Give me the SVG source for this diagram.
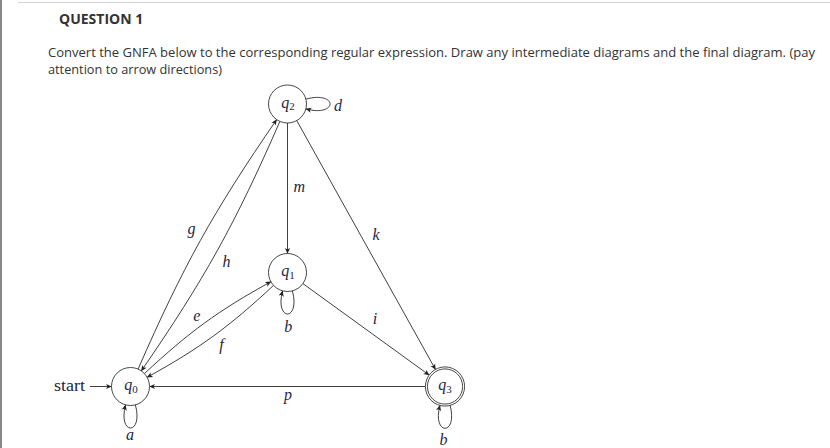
<svg xmlns="http://www.w3.org/2000/svg" width="830" height="448" viewBox="0 0 830 448">
<style>
.hdr{font-family:"Open Sans","Liberation Sans",sans-serif;fill:#333}
.st{fill:#fff;stroke:#333;stroke-width:0.9}
.lbl{font-family:"Liberation Serif","DejaVu Serif",serif;font-style:italic;font-size:16px;fill:#1f1f3f;text-anchor:middle}
.sub{font-style:normal;font-size:11px}
.rm{font-family:"Liberation Serif","DejaVu Serif",serif;font-size:16px;fill:#1f1f3f;text-anchor:middle}
.e{fill:none;stroke:#2a2a2a;stroke-width:0.9;marker-end:url(#arr)}
</style>
<defs>
<marker id="arr" viewBox="-6 -3 6.5 6" refX="0" refY="0" markerWidth="6.5" markerHeight="6" markerUnits="userSpaceOnUse" orient="auto" overflow="visible">
<path d="M0.3,0 L-5.5,-2.6 L-4,0 L-5.5,2.6 Z" fill="#222"/>
</marker>
</defs>
<rect width="830" height="448" fill="#fff"/>
<line x1="1" y1="0" x2="1" y2="448" stroke="#888" stroke-width="2"/>
<line x1="18" y1="2.5" x2="830" y2="2.5" stroke="#d4d4d4" stroke-width="1.2"/>
<text class="hdr" x="59" y="23.5" font-size="14" font-weight="bold">QUESTION 1</text>
<text class="hdr" x="48" y="57" font-size="13" textLength="767" lengthAdjust="spacingAndGlyphs">Convert the GNFA below to the corresponding regular expression. Draw any intermediate diagrams and the final diagram. (pay</text>
<text class="hdr" x="48" y="74" font-size="13" textLength="174" lengthAdjust="spacingAndGlyphs">attention to arrow directions)</text>

<g id="connectors">
<path class="e" d="M90,386.5 L111.5,386.5"/>
<path class="e" d="M138.1,369.1 C182.8,266.8 213.3,211.5 276.7,119.6"/>
<path class="e" d="M279.9,121.4 C235.2,223.7 204.7,279 141.3,370.9"/>
<path class="e" d="M144.4,373.6 C189.3,332 217.3,311.2 270.9,281.7"/>
<path class="e" d="M273.6,285.4 C228.7,327 200.7,347.8 147.1,377.3"/>
<path class="e" d="M287.5,123 L287.5,253.5"/>
<path class="e" d="M296.75,120.6 L435.5,369.5"/>
<path class="e" d="M302.9,283.6 L429.2,375.1"/>
<path class="e" d="M425.4,386.5 L149.5,386.5"/>
<path class="e" d="M305.9,99.1 C338.1,90.5 338.1,117.5 305.9,108.9"/>
<path class="e" d="M135.4,404.9 C143.7,435.7 117.3,435.7 125.6,404.9"/>
<path class="e" d="M292.4,290.9 C300.7,321.7 274.3,321.7 282.6,290.9"/>
<path class="e" d="M450.05,405.3 C458.3,436 431.7,436 439.95,405.3"/>
<text class="lbl" x="191.5" y="233.5">g</text>
<text class="lbl" x="226.5" y="266.5">h</text>
<text class="lbl" x="196.7" y="321">e</text>
<text class="lbl" x="221.5" y="350">f</text>
<text class="lbl" x="299.3" y="191.5">m</text>
<text class="lbl" x="376" y="239.5">k</text>
<text class="lbl" x="375" y="323.5">i</text>
<text class="lbl" x="288" y="400">p</text>
<text class="lbl" x="338" y="110.5">d</text>
<text class="lbl" x="130" y="439.5">a</text>
<text class="lbl" x="288.3" y="331.5">b</text>
<text class="lbl" x="443.5" y="444.5">b</text>
</g>

<g id="q0">
<circle class="st" cx="130.5" cy="386.5" r="19"/>
<text class="lbl" x="131" y="390">q<tspan class="sub" dy="2.5">0</tspan></text>
</g>
<g id="start">
<text class="rm" x="69.5" y="390.5" textLength="31" lengthAdjust="spacingAndGlyphs">start</text>
</g>
<g id="q1">
<circle class="st" cx="287.5" cy="272.5" r="19"/>
<text class="lbl" x="288" y="276">q<tspan class="sub" dy="2.5">1</tspan></text>
</g>
<g id="q2">
<circle class="st" cx="287.5" cy="104" r="19"/>
<text class="lbl" x="288" y="107.5">q<tspan class="sub" dy="2.5">2</tspan></text>
</g>
<g id="q3">
<circle class="st" cx="445" cy="386.5" r="19.6"/>
<circle class="st" cx="445" cy="386.5" r="17.6" fill="none"/>
<text class="lbl" x="445" y="390">q<tspan class="sub" dy="2.5">3</tspan></text>
</g>
</svg>
